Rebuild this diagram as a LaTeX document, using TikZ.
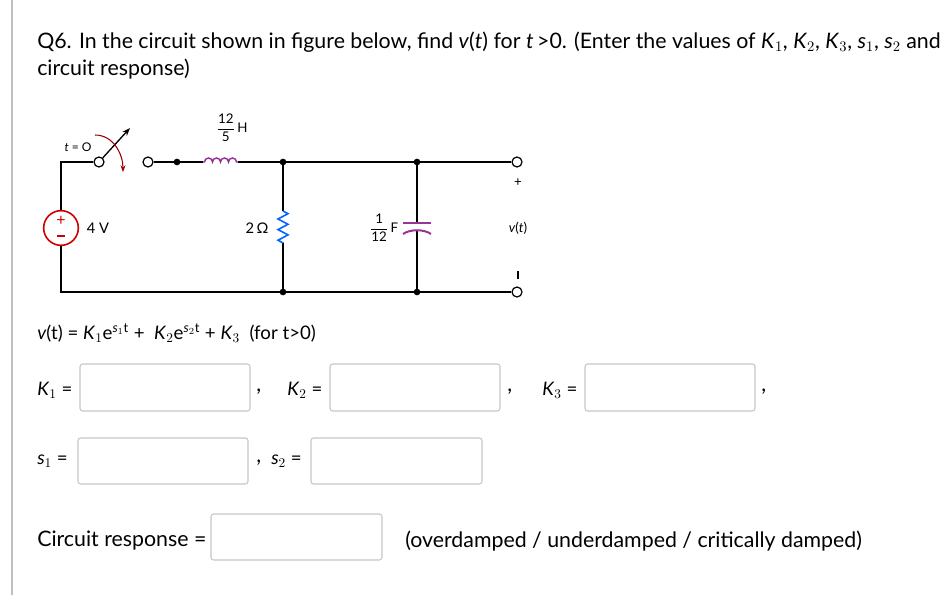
\documentclass[tikz,border=0pt]{standalone}
\usepackage{fontspec}
\setmainfont{Lato}
\usetikzlibrary{decorations.pathmorphing,arrows.meta}
\begin{document}
\begin{tikzpicture}[x=0.75pt,y=-0.75pt,
  wire/.style={line width=1.3pt,black},
  term/.style={circle,draw,fill=white,inner sep=0pt,minimum size=7.5pt,line width=0.9pt},
  jdot/.style={circle,fill,inner sep=0pt,minimum size=5pt},
  ansbox/.style={draw=gray!45,rounded corners=2pt,line width=0.8pt},
  qtext/.style={anchor=west,inner sep=0pt,font=\fontsize{16}{19}\selectfont}]
\useasboundingbox (0,0) rectangle (945,595);
\draw[gray!50,line width=0.8pt] (12,0) -- (12,595);
\node[qtext] (q1) at (37,42) {Q6. In the circuit shown in figure below, find \textit{v}(\textit{t}) for \textit{t}\,>0. (Enter the values of \textit{K}$_1$, \textit{K}$_2$, \textit{K}$_3$, \textit{s}$_1$, \textit{s}$_2$ and};
\node[qtext] (q2) at (37,69) {circuit response)};
% circuit
\coordinate (tl) at (61,162); \coordinate (bl) at (61,292);
\coordinate (n1) at (283,162); \coordinate (n1b) at (283,292);
\coordinate (n2) at (417,162); \coordinate (n2b) at (417,292);
\node[term] (sa) at (99,162) {};
\node[term] (sb) at (148,162) {};
\node[jdot] (d0) at (177,162) {};
\coordinate (la) at (203,162); \coordinate (lb) at (238,162);
\node[term] (tp) at (517,162) {};
\node[term] (tm) at (517,292) {};
\node[circle,draw=red!80!black,line width=1.2pt,minimum size=26pt,inner sep=0pt] (src) at (61,228) {};
\node[red!80!black,font=\fontsize{12}{12}\selectfont,inner sep=0pt] (sp) at (61,221) {+};
\node[red!80!black,inner sep=0pt] (sm) at (61,236) {\rule{6pt}{0.9pt}};
\draw[wire] (src.north) -- (tl) -- (sa);
\draw[wire] (src.south) -- (bl) -- (n1b) -- (n2b) -- (tm);
\draw[wire] (sb) -- (la);
\draw[line width=1.1pt,violet!80] (la) -- ++(1.5,0) \foreach \i in {0,1,2,3} {arc[start angle=180,end angle=360,radius=4]} -- (lb);
\draw[wire] (lb) -- (n1) -- (n2) -- (tp);
% resistor
\coordinate (ra) at (283,211); \coordinate (rb) at (283,243);
\draw[wire] (n1) -- (ra); \draw[wire] (rb) -- (n1b);
\draw[line width=1.2pt,blue!60!cyan] (ra) -- ++(5,2.7) -- ++(-10,5.3) -- ++(10,5.3) -- ++(-10,5.3) -- ++(10,5.3) -- ++(-10,5.3) -- ++(5,2.8) -- (rb);
% capacitor
\coordinate (ca) at (417,223); \coordinate (cb) at (417,231);
\draw[wire] (n2) -- (ca); \draw[wire] (cb) -- (n2b);
\draw[line width=1.5pt,violet!80] (403,223) -- (431,223);
\draw[line width=1.5pt,violet!80] (403,234) .. controls (410,229) and (424,229) .. (431,234);
\foreach \p in {n1,n2,n1b,n2b} \node[jdot] at (\p) {};
% switch
\draw[line width=1pt,-{Stealth[length=6pt]}] (sa) -- (130,128);
\draw[line width=0.8pt,red!60!black,-{Stealth[length=5pt]}] (95,135) to[out=0,in=90] (123,172);
\node[font=\fontsize{9}{10}\selectfont,inner sep=0pt] (t0) at (78,147) {\textit{t} = O};
\node[font=\fontsize{11}{12}\selectfont,inner sep=0pt] (lv) at (98,228) {4 V};
\node[font=\fontsize{11}{12}\selectfont,inner sep=0pt] (lr) at (257,228) {2\,Ω};
\node[font=\fontsize{10}{11}\selectfont,inner sep=0pt] (lc) at (384,228) {$\displaystyle\frac{\mathrm{1}}{\mathrm{12}}$\,F};
\node[font=\fontsize{10}{11}\selectfont,inner sep=0pt] (ll) at (232,128) {$\displaystyle\frac{\mathrm{12}}{\mathrm{5}}$\,H};
\node[font=\fontsize{10}{10}\selectfont,inner sep=0pt] (lvt) at (518,228) {\textit{v}(\textit{t})};
\node[font=\fontsize{10}{10}\selectfont,inner sep=0pt] (lp) at (518,183) {+};
\node[inner sep=0pt] (lm) at (518,275) {\rule{0.8pt}{6pt}};
% formula
\node[qtext,font=\fontsize{14}{16}\selectfont] (f) at (37,333) {\textit{v}(t) = \textit{K}$_1$e$^{\mathit{s}_1\mathrm{t}}$ + \ \textit{K}$_2$e$^{\mathit{s}_2\mathrm{t}}$ + \textit{K}$_3$ \ (for t>0)};
\node[qtext,font=\fontsize{14}{16}\selectfont] (k1) at (37,390) {\textit{K}$_1$ =};
\draw[ansbox] (80,364) rectangle (250,411);
\node[qtext] (c1) at (256,392) {,};
\node[qtext,font=\fontsize{14}{16}\selectfont] (k2) at (287,390) {\textit{K}$_2$ =};
\draw[ansbox] (330,364) rectangle (500,411);
\node[qtext] (c2) at (507,392) {,};
\node[qtext,font=\fontsize{14}{16}\selectfont] (k3) at (542,390) {\textit{K}$_3$ =};
\draw[ansbox] (585,364) rectangle (755,411);
\node[qtext] (c3) at (761,392) {,};
\node[qtext,font=\fontsize{14}{16}\selectfont] (s1) at (37,461) {\textit{s}$_1$ =};
\draw[ansbox] (78,438) rectangle (248,484);
\node[qtext] (c4) at (256,463) {,};
\node[qtext,font=\fontsize{14}{16}\selectfont] (s2) at (271,461) {\textit{s}$_2$ =};
\draw[ansbox] (311,438) rectangle (482,484);
\node[qtext,font=\fontsize{16}{19}\selectfont] (cr) at (37,541) {Circuit response =};
\draw[ansbox] (211,514) rectangle (382,560);
\node[qtext,font=\fontsize{16}{19}\selectfont] (od) at (405,541) {(overdamped / underdamped / critically damped)};
\end{tikzpicture}
\end{document}
